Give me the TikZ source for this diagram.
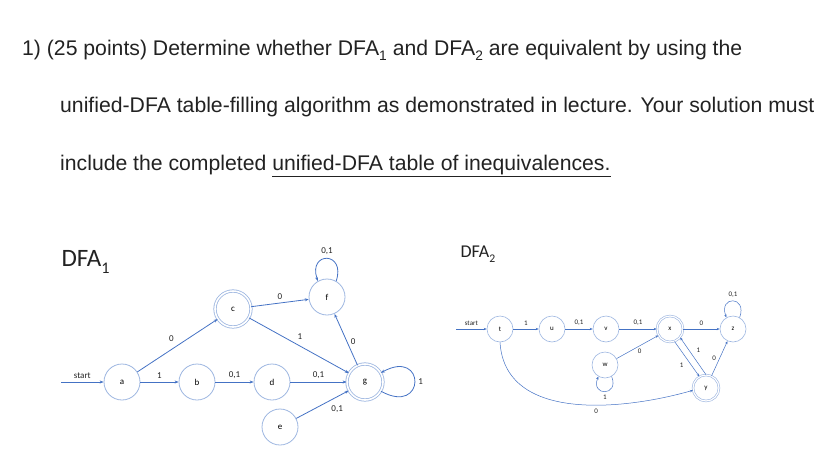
\documentclass[tikz,border=0pt]{standalone}
\usepackage{fontspec}
\setmainfont{Liberation Sans}
\newfontfamily\calfnt{Carlito}
\usetikzlibrary{arrows.meta}
\definecolor{edge}{HTML}{4472C4}
\definecolor{ring}{HTML}{9DB6E0}
\definecolor{txt}{HTML}{222222}
\newcommand{\mysub}[1]{\raisebox{-0.25em}{\scalebox{0.65}{#1}}}
\begin{document}
\begin{tikzpicture}[x=1pt,y=-1pt,
  st/.style={circle,draw=ring,line width=0.8pt,minimum size=36pt,inner sep=0pt,font=\calfnt\fontsize{9}{9}\selectfont},
  acc/.style={st,double=white,double distance=1.6pt},
  st2/.style={circle,draw=ring,line width=0.6pt,minimum size=26pt,inner sep=0pt,font=\calfnt\fontsize{7}{7}\selectfont},
  acc2/.style={st2,double=white,double distance=1.2pt},
  tr/.style={draw=edge,line width=0.8pt,-{Stealth[length=4pt,width=3pt]}},
  tr2/.style={draw=edge,line width=0.5pt,-{Stealth[length=3pt,width=2.4pt]}},
  lb/.style={font=\calfnt\fontsize{9}{9}\selectfont,text=txt},
  lb2/.style={font=\calfnt\fontsize{7}{7}\selectfont,text=txt},
  hd/.style={anchor=base west,font=\fontsize{21.2}{21.2}\selectfont,text=txt,inner sep=0pt}]
\useasboundingbox (0,0) rectangle (829,471);
\node[hd] (l1) at (22,55) {1) (25 points) Determine whether DFA\mysub{1} and DFA\mysub{2} are equivalent by using the};
\node[hd] (l2) at (60,112) {unified-DFA table-filling algorithm as demonstrated in lecture. Your solution must};
\node[hd] (l3) at (60,170) {include the completed \underline{unified-DFA table of inequivalences.}};
% DFA1
\node[anchor=west,font=\calfnt\fontsize{25}{25}\selectfont,text=txt] (t1) at (58,262) {DFA\mysub{1}};
\node[st] (a) at (122,382) {a};
\node[st] (b) at (197,382) {b};
\node[st] (d) at (272,382) {d};
\node[acc] (g) at (365,382) {g};
\node[acc] (c) at (233,309) {c};
\node[st] (f) at (327,297) {f};
\node[st] (e) at (280,427) {e};
\coordinate (s1) at (61,382);
\draw[tr] (s1) -- node[lb,above,pos=0.5] {start} (a);
\draw[tr] (a) -- node[lb,above] {1} (b);
\draw[tr] (b) -- node[lb,above] {0,1} (d);
\draw[tr] (d) -- node[lb,above] {0,1} (g);
\draw[tr] (a) -- node[lb,above left,pos=0.5] {0} (c);
\draw[tr] (c) -- node[lb,above] {0} (f);
\draw[tr] (c) -- node[lb,above right,pos=0.45] {1} (g);
\draw[tr] (g) -- node[lb,right,pos=0.45] {0} (f);
\draw[tr] (e) -- node[lb,below right,pos=0.6] {0,1} (g);
\draw[tr] (f.60) .. controls +(10,-30) and +(-10,-30) .. node[lb,above] {0,1} (f.120);
\draw[tr] (g.-30) .. controls +(45,25) and +(45,-25) .. node[lb,right] {1} (g.30);
% DFA2
\node[anchor=west,font=\calfnt\fontsize{18}{18}\selectfont,text=txt] (t2) at (457,254) {DFA\mysub{2}};
\node[st2] (t) at (500,329) {t};
\node[st2] (u) at (552,329) {u};
\node[st2] (v) at (606,329) {v};
\node[acc2] (x) at (670,329) {x};
\node[st2] (z) at (733,329) {z};
\node[st2] (w) at (605,365) {w};
\node[acc2] (y) at (706,388) {y};
\coordinate (s2) at (456,329);
\draw[tr2] (s2) -- node[lb2,above] {start} (t);
\draw[tr2] (t) -- node[lb2,above] {1} (u);
\draw[tr2] (u) -- node[lb2,above] {0,1} (v);
\draw[tr2] (v) -- node[lb2,above] {0,1} (x);
\draw[tr2] (x) -- node[lb2,above] {0} (z);
\draw[tr2] (w) -- node[lb2,below,pos=0.55] {0} (x);
\draw[tr2] (x.-70) -- node[lb2,below left] {1} (y.120);
\draw[tr2] (y.90) -- node[lb2,above right] {1} (x.-40);
\draw[tr2] (y) -- node[lb2,left,pos=0.5] {0} (z);
\draw[tr2] (z.60) .. controls +(8,-22) and +(-8,-22) .. node[lb2,above] {0,1} (z.120);
\draw[tr2] (w.-60) .. controls +(8,20) and +(-8,20) .. node[lb2,below] {1} (w.-120);
\draw[tr2] (t.-90) .. controls +(5,80) and +(-70,20) .. node[lb2,below,pos=0.6] {0} (y.190);
\end{tikzpicture}
\end{document}
